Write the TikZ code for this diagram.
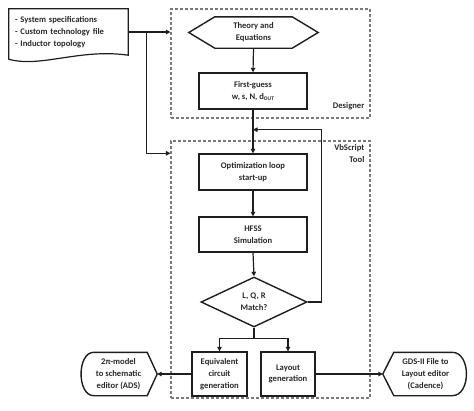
\documentclass[tikz,border=0pt]{standalone}
\usepackage{fontspec}
\setmainfont{Carlito}
\usetikzlibrary{shapes.geometric,arrows.meta,calc}
\definecolor{txt}{RGB}{40,40,40}
\definecolor{ln}{RGB}{30,30,30}
\definecolor{grpc}{RGB}{120,120,120}
\begin{document}
\begin{tikzpicture}[x=1pt,y=-1pt,
  every node/.style={font=\fontsize{8.6}{11.8}\selectfont\bfseries, text=txt, align=center},
  blk/.style={draw=ln, line width=1.4pt, minimum width=108pt, minimum height=36pt, inner sep=1pt},
  smallblk/.style={draw=ln, line width=1.4pt, minimum height=44pt, inner sep=1pt},
  grp/.style={draw=grpc, line width=1.1pt, dash pattern=on 3pt off 2pt},
  ghost/.style={draw=none, inner sep=0pt},
  outl/.style={draw=ln, line width=1.4pt},
  arr/.style={draw=ln, line width=1.2pt, -{Triangle[length=4.5pt,width=4.5pt]}},
  plain/.style={draw=ln, line width=1.2pt}]
\useasboundingbox (0,0) rectangle (474,410);

% group boxes
\node[grp, minimum width=199pt, minimum height=109pt] (designer) at (270.5,63.5) {};
\node[grp, minimum width=199pt, minimum height=257pt] (vbs) at (270.5,269.5) {};
\node[anchor=east, inner sep=0pt] (deslbl) at ($(designer.south east)+(-6,-12)$) {Designer};
\node[anchor=north east, align=right, inner sep=0pt] (vbslbl) at ($(vbs.north east)+(-6,4)$) {VbScript\\Tool};

% input document
\node[ghost, minimum width=119pt, minimum height=46pt, text width=107pt, align=left] (doc) at (68.5,32) {- System specifications\\- Custom technology file\\- Inductor topology};
\draw[outl, line width=1.2pt] (doc.north west) -- (doc.north east) -- (doc.south east)
  .. controls ($(doc.south east)+(-48,-7)$) and ($(doc.south west)+(31,13)$) .. ($(doc.south west)+(0,4)$) -- cycle;

% theory hexagon
\node[ghost, minimum width=129pt, minimum height=31pt] (theory) at (253.5,32.5) {Theory and\\Equations};
\draw[outl] (theory.west) -- ($(theory.north west)+(26,0)$) -- ($(theory.north east)+(-26,0)$) -- (theory.east)
  -- ($(theory.south east)+(-26,0)$) -- ($(theory.south west)+(26,0)$) -- cycle;

\node[blk] (first) at (253,91) {First-guess\\w, s, N, d{\raisebox{-0.35ex}{\fontsize{5.5}{5.5}\selectfont OUT}}};
\node[blk] (opt) at (253,172) {Optimization loop\\start-up};
\node[blk, minimum height=35pt] (hfss) at (253,234.5) {HFSS\\Simulation};
\node[diamond, draw=ln, line width=1.4pt, minimum width=106pt, minimum height=50pt, inner sep=0pt, aspect=2] (dia) at (254,302) {L, Q, R\\Match?};
\node[smallblk, minimum width=55pt] (equiv) at (219.5,374) {Equivalent\\circuit\\generation};
\node[smallblk, minimum width=54pt] (layout) at (288,374) {Layout\\generation};

% output terminals
\node[ghost, minimum width=77pt, minimum height=43pt] (ads) at (118.5,374) {2π-model\\to schematic\\editor (ADS)};
\draw[outl] ($(ads.north east)+(-10,0)$) -- (ads.east) -- ($(ads.south east)+(-10,0)$) -- ($(ads.south west)+(14,0)$)
  .. controls ($(ads.south west)+(-3,0)$) and ($(ads.north west)+(-3,0)$) .. ($(ads.north west)+(14,0)$) -- cycle;
\node[ghost, minimum width=85pt, minimum height=43pt] (gds) at (425.5,374) {GDS-II File to\\Layout editor\\(Cadence)};
\draw[outl] ($(gds.north west)+(11,0)$) -- (gds.west) -- ($(gds.south west)+(11,0)$) -- ($(gds.south east)+(-16,0)$)
  .. controls ($(gds.south east)+(3,0)$) and ($(gds.north east)+(3,0)$) .. ($(gds.north east)+(-16,0)$) -- cycle;

% connectors
\draw[arr] (doc.east) -- (doc.east -| designer.west);
\coordinate (br) at ($(doc.east)+(18,0)$);
\draw[arr] (br) |- (opt.north -| vbs.west);
\draw[arr] (theory.south) -- (first.north);
\draw[arr] (first.south) -- (opt.north);
\draw[arr] (opt.south) -- (hfss.north);
\draw[arr] (hfss.south) -- (dia.north);
\coordinate (fb) at ($(dia.east)+(14,0)$);
\coordinate (fbin) at ($(first.south)+(0,20)$);
\draw[arr] (dia.east) -- (fb) |- (fbin);
\coordinate (sp) at ($(dia.south)+(0,11)$);
\draw[plain] (dia.south) -- (sp);
\draw[arr] (sp) -| (equiv.north);
\draw[arr] (sp) -| (layout.north);
\draw[arr] (equiv.west) -- (ads.east);
\draw[arr] (layout.east) -- (gds.west);
\end{tikzpicture}
\end{document}
